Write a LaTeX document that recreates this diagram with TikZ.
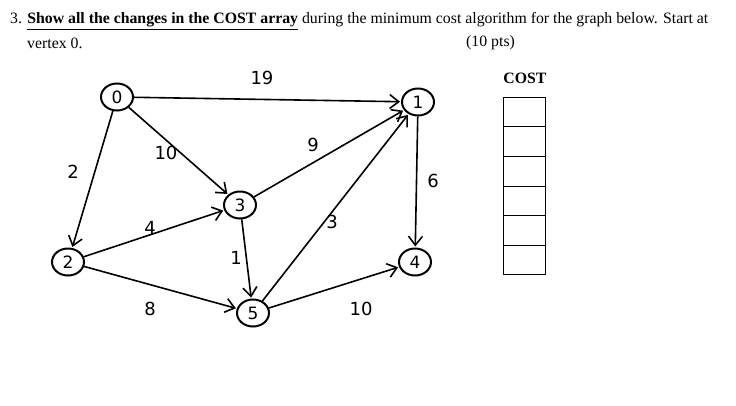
\documentclass[tikz,border=0pt]{standalone}
\usepackage{fontspec}
\setmainfont{Liberation Serif}
\newfontfamily\hand{DejaVu Sans}
\usetikzlibrary{arrows.meta,shapes.geometric}
\begin{document}
\begin{tikzpicture}[x=1pt,y=-1pt,
  vert/.style={draw,line width=2pt,ellipse,minimum width=32pt,minimum height=27pt,inner sep=0pt,font=\hand\fontsize{17}{19}\selectfont},
  edge/.style={line width=1.6pt,-{Straight Barb[length=9pt,width=14pt]},shorten >=1pt},
  wt/.style={font=\hand\fontsize{18}{20}\selectfont},
  cell/.style={draw,line width=1pt,minimum width=42pt,minimum height=29.6pt,inner sep=0pt}]
\useasboundingbox (0,0) rectangle (736,405);
\node[anchor=west,inner sep=0pt,font=\fontsize{15.8}{18}\selectfont] (t1) at (10,21) {3. \textbf{\underline{Show all the changes in the COST array}} during the minimum cost algorithm for the graph below. Start at};
\node[anchor=west,inner sep=0pt,font=\fontsize{15.8}{18}\selectfont] (t2) at (27,43) {vertex 0.};
\node[anchor=west,inner sep=0pt,font=\fontsize{15.8}{18}\selectfont] (t3) at (466,43) {(10 pts)};
\node[vert] (n0) at (117,97) {0};
\node[vert] (n1) at (418,102) {1};
\node[vert] (n2) at (68,262) {2};
\node[vert] (n3) at (240,205) {3};
\node[vert] (n4) at (415,262) {4};
\node[vert] (n5) at (253,313) {5};
\draw[edge] (n0) -- (n1);
\draw[edge] (n0) -- (n3);
\draw[edge] (n0) -- (n2);
\draw[edge] (n3) -- (n1);
\draw[edge] (n2) -- (n3);
\draw[edge] (n3) -- (n5);
\draw[edge] (n2) -- (n5);
\draw[edge] (n1) -- (n4);
\draw[edge] (n5) -- (n1);
\draw[edge] (n5) -- (n4);
\node[wt] (w19) at (262,78) {19};
\node[wt] (w10a) at (166,153) {10};
\node[wt] (w2) at (73,172) {2};
\node[wt] (w9) at (313,145) {9};
\node[wt] (w4) at (150,228) {4};
\node[wt] (w1) at (236,258) {1};
\node[wt] (w8) at (150,309) {8};
\node[wt] (w6) at (433,181) {6};
\node[wt] (w3) at (332,222) {3};
\node[wt] (w10b) at (361,309) {10};
\node[font=\bfseries\fontsize{15.8}{18}\selectfont] (cost) at (525,78) {COST};
\foreach \i in {0,...,5} \node[cell] (c\i) at (524,112+29.6*\i) {};
\end{tikzpicture}
\end{document}
